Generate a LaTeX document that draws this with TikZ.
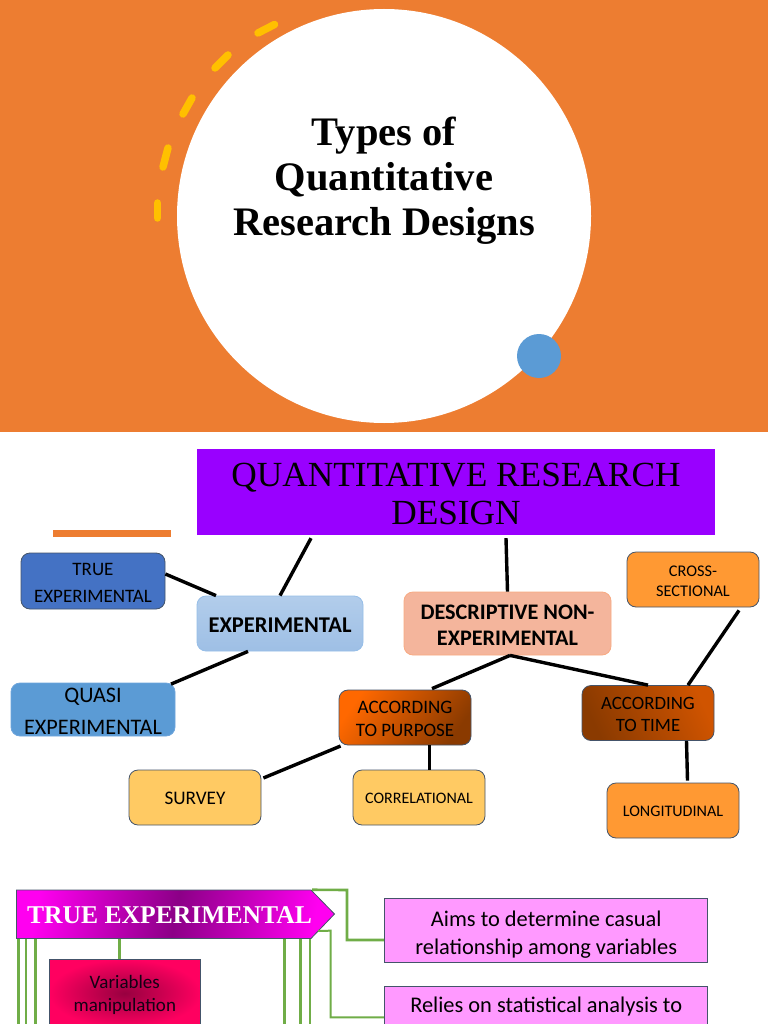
\documentclass[tikz,border=0pt]{standalone}
\usepackage{fontspec}
\setmainfont{Carlito}
\newfontfamily\serifb{Liberation Serif}
\newcommand{\lifttext}[1]{\rule{0pt}{#1pt}}
\definecolor{orangebg}{HTML}{ED7D31}
\definecolor{dashy}{HTML}{FFC000}
\definecolor{dotblue}{HTML}{5B9BD5}
\definecolor{greenl}{HTML}{70AD47}
\definecolor{edgeb}{HTML}{44546A}
\definecolor{pinkf}{HTML}{FF99FF}
\definecolor{purpl}{HTML}{9900FF}
\definecolor{bluetrue}{HTML}{4472C4}
\definecolor{expedge}{HTML}{96BEE8}
\definecolor{exptop}{HTML}{B2CDEB}
\definecolor{expbot}{HTML}{9EBFE5}
\definecolor{quasiedge}{HTML}{6EA5DC}
\definecolor{descedge}{HTML}{F8AA82}
\definecolor{descfill}{HTML}{F4B59C}
\definecolor{brightor}{HTML}{FF6800}
\definecolor{darkor}{HTML}{8A3A00}
\definecolor{midor}{HTML}{D05400}
\definecolor{orfill}{HTML}{FF9933}
\definecolor{yelfill}{HTML}{FFCA63}
\definecolor{magbright}{HTML}{FF00F0}
\definecolor{magdark}{HTML}{8C0087}
\definecolor{roseout}{HTML}{FF0060}
\definecolor{rosein}{HTML}{980040}
\definecolor{inkd}{HTML}{140014}
\begin{document}
\begin{tikzpicture}[x=1pt,y=-1pt,
  box/.style={rectangle,rounded corners=9pt,inner sep=0pt,align=center,text=black,draw=#1,line width=0.8pt},
  box/.default=edgeb,
  link/.style={draw=black,line width=3.4pt},
  glink/.style={draw=greenl,line width=#1},
  glink/.default=2.6pt,
  pinkbox/.style={rectangle,fill=pinkf,draw=edgeb,line width=1pt,inner sep=0pt,align=center},
  dashmark/.style={draw=dashy,line width=7.5pt,line cap=round}]
\useasboundingbox (0,0) rectangle (768,1024);
\clip (0,0) rectangle (768,1024);
\fill[white] (0,0) rectangle (768,1024);
\fill[orangebg] (0,0) rectangle (768,432);
\node[circle,fill=white,minimum size=414pt,inner sep=0pt] (hero) at (384,216) {};
\node[align=center,inner sep=0pt,font=\serifb\bfseries\fontsize{40.5}{45}\selectfont] (herotext) at (384,181) {Types of\\Quantitative\\Research Designs};
\node[circle,fill=dotblue,minimum size=44pt,inner sep=0pt] (dot) at (539,356) {};
\draw[dashmark] (274.5,24.5) -- (258,33);
\draw[dashmark] (228,55) -- (215,68);
\draw[dashmark] (192,98) -- (183,114);
\draw[dashmark] (168,148) -- (163,167);
\draw[dashmark] (157.5,203) -- (157.5,218);
% concept map
\fill[orangebg] (53,530) rectangle (171,537);
\node[rectangle,fill=purpl,minimum width=518pt,minimum height=86pt,inner sep=0pt,align=center,font=\serifb\fontsize{35.3}{38.5}\selectfont] (title) at (456,492) {\lifttext{27.3}QUANTITATIVE RESEARCH\\DESIGN};
\node[box,fill=bluetrue,minimum width=144pt,minimum height=56pt,font=\fontsize{19}{27}\selectfont] (trueexp) at (93,581) {\lifttext{16.5}TRUE\\EXPERIMENTAL};
\node[box=expedge,top color=exptop,bottom color=expbot,minimum width=166pt,minimum height=55pt,font=\bfseries\fontsize{22.5}{26}\selectfont] (exp) at (280,623.5) {\lifttext{18.5}EXPERIMENTAL};
\node[box=quasiedge,fill=dotblue,minimum width=164pt,minimum height=53pt,font=\fontsize{22.2}{31.5}\selectfont] (quasi) at (93,709.5) {\lifttext{17.5}QUASI\\EXPERIMENTAL};
\node[box=descedge,fill=descfill,minimum width=207pt,minimum height=63pt,font=\bfseries\fontsize{22.2}{26.5}\selectfont] (desc) at (507.5,623.5) {\lifttext{18}DESCRIPTIVE NON-\\EXPERIMENTAL};
\node[box,left color=brightor,right color=darkor,shading angle=55,minimum width=132pt,minimum height=55pt,font=\fontsize{19}{23}\selectfont] (purpose) at (405,717.5) {\lifttext{14.3}ACCORDING\\TO PURPOSE};
\node[box,left color=darkor,right color=midor,shading angle=115,minimum width=132pt,minimum height=55pt,font=\fontsize{18.8}{22.5}\selectfont] (time) at (648,713) {\lifttext{15.5}ACCORDING\\TO TIME};
\node[box,fill=orfill,minimum width=132pt,minimum height=55pt,font=\fontsize{16.3}{19.5}\selectfont] (cross) at (693,579.5) {\lifttext{14.5}CROSS-\\SECTIONAL};
\node[box,fill=yelfill,minimum width=132pt,minimum height=55pt,font=\fontsize{19.2}{22}\selectfont] (survey) at (195,797.5) {\lifttext{14.4}SURVEY};
\node[box,fill=yelfill,minimum width=132pt,minimum height=55pt,font=\fontsize{16}{19}\selectfont] (corr) at (419,797.5) {\lifttext{12.3}CORRELATIONAL};
\node[box,fill=orfill,minimum width=132pt,minimum height=55pt,font=\fontsize{16.1}{19}\selectfont] (long) at (673,810.5) {\lifttext{12.4}LONGITUDINAL};
\draw[link] ([shift={(-145,3)}]title.south) -- (exp.north);
\draw[link] ([shift={(50,3)}]title.south) -- (desc.north);
\draw[link] ([shift={(0,-7)}]trueexp.east) -- ([shift={(-64,0)}]exp.north);
\draw[link] ([shift={(-32,0)}]exp.south) -- ([shift={(78,1.5)}]quasi.north);
\draw[link] ([shift={(2.5,0)}]desc.south) -- ([shift={(27,-1)}]purpose.north);
\draw[link] ([shift={(2.5,0)}]desc.south) -- (time.north);
\draw[link] ([shift={(40,0)}]time.north) -- ([shift={(46,3)}]cross.south);
\draw[link] ([shift={(38.5,0)}]time.south) -- ([shift={(14.5,-2)}]long.north);
\draw[link] ([shift={(24.5,0)}]purpose.south) -- ([shift={(10.5,0)}]corr.north);
\draw[link] ([shift={(2,28.5)}]purpose.west) -- ([shift={(2,-19.5)}]survey.east);
% true experimental
\draw[edgeb,line width=0.8pt,left color=magbright,right color=magbright,middle color=magdark,shading angle=80]
  (16.5,890) -- (311,890) -- (334.5,914) -- (311,938.5) -- (16.5,938.5) -- cycle;
\node[rectangle,minimum width=294.5pt,minimum height=46.5pt,inner sep=0pt,text=white,font=\serifb\bfseries\fontsize{25.6}{28}\selectfont] (te) at (169.5,915.2) {TRUE EXPERIMENTAL};
\node[rectangle,draw=edgeb,line width=1pt,inner color=rosein,outer color=roseout,minimum width=151.5pt,minimum height=68pt,inner sep=0pt,align=center,text=inkd,font=\fontsize{19}{23}\selectfont] (vars) at (124.8,993.3) {\lifttext{17}Variables\\manipulation};
\node[pinkbox,minimum width=323.5pt,minimum height=63.5pt,font=\fontsize{22.4}{28}\selectfont] (aims) at (546.2,930.5) {\lifttext{24}Aims to determine casual\\relationship among variables};
\node[pinkbox,minimum width=323.5pt,anchor=north,text height=26pt,text depth=38pt,font=\fontsize{22.4}{28}\selectfont] (relies) at (546.2,985.7) {Relies on statistical analysis to};
\coordinate (g1) at (18.5,1024);
\coordinate (g2) at (26,1024);
\coordinate (g3) at (35,1024);
\coordinate (g4) at (284.5,1024);
\coordinate (g5) at (300.5,1024);
\coordinate (g6) at (310,1024);
\coordinate (rl) at (0,1017.3);
\draw[glink=3pt] ([shift={(-151,0)}]te.south) -- (g1);
\draw[glink=2pt] ([shift={(-143.5,0)}]te.south) -- (g2);
\draw[glink=3pt] ([shift={(-134.5,0)}]te.south) -- (g3);
\draw[glink=3pt] ([shift={(115,0)}]te.south) -- (g4);
\draw[glink=3pt] ([shift={(131,0)}]te.south) -- (g5);
\draw[glink=2pt] ([shift={(140.5,0)}]te.south) -- (g6);
\draw[glink=2.6pt] ([shift={(-50,0)}]te.south) -- ([shift={(-5.3,0)}]vars.north);
\draw[glink=2.6pt] ([shift={(142.5,-2)}]te.north) -- (347,890) -- (347,940) -- ([shift={(0,9.5)}]aims.west);
\draw[glink=2pt] ([shift={(148.5,-7.75)}]te.south) -- (330.5,930.7) -- (330.5,1017.3) -- (relies.west |- rl);
\end{tikzpicture}
\end{document}
